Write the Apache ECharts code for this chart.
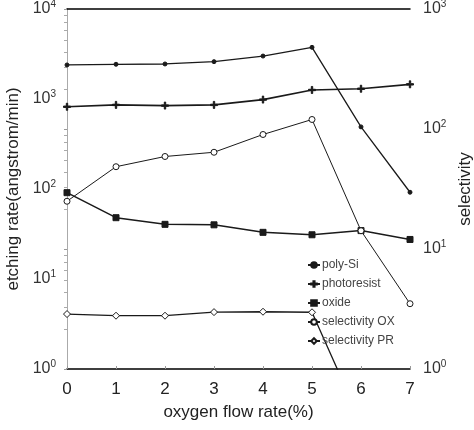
<!DOCTYPE html>
<html>
<head>
<meta charset="utf-8">
<script src="https://cdn.jsdelivr.net/npm/echarts@6/dist/echarts.min.js"></script>
<style>
  html, body { margin: 0; padding: 0; background: #fff; }
  #chart { width: 474px; height: 430px; }
</style>
</head>
<body>
<div id="chart"></div>
<script>
const flowRate = [0, 1, 2, 3, 4, 5, 6, 7];
const polySi = [2390, 2430, 2450, 2600, 3000, 3750, 490, 92];
const photoresist = [820, 860, 845, 860, 985, 1260, 1300, 1455];
const oxide = [91, 48, 40.5, 40, 33, 31, 34.5, 27.5];
const selectivityOX = [25, 48.5, 59, 64, 90, 120, 14.2, 3.5];
const selectivityPR = [2.87, 2.78, 2.78, 2.98, 3.0, 2.97, 0.36, 0.065];

const FONT = '"Liberation Sans", Arial, sans-serif';
const INK = '#1a1a1a';

const pairs = (ys) => flowRate.map((x, i) => [x, ys[i]]);

const powLabel = (v) => '{b|10}{s|' + Math.round(Math.log10(v)) + '}';
const powRich = {
  b: { fontSize: 16, fontFamily: FONT, color: '#333' },
  s: { fontSize: 10, fontFamily: FONT, color: '#333', padding: [0, 0, 9, 0] }
};

const plus = 'path://M-1,-5 L1,-5 L1,-1 L5,-1 L5,1 L1,1 L1,5 L-1,5 L-1,1 L-5,1 L-5,-1 L-1,-1 Z';

const makeSeries = (name, ys, axis, symbol, size, filled, width) => ({
  name: name,
  type: 'line',
  yAxisIndex: axis,
  data: pairs(ys),
  symbol: symbol,
  symbolSize: size,
  showAllSymbol: true,
  lineStyle: { color: INK, width: width },
  itemStyle: { color: filled ? INK : '#fff', borderColor: INK, borderWidth: 1 },
  clip: true,
  z: 3
});

const initChart = () => {
  const chart = echarts.init(document.getElementById('chart'), null, { renderer: 'canvas' });
  chart.setOption({
    animation: false,
    backgroundColor: '#fff',
    grid: { left: 67, right: 64, top: 9, bottom: 61, outerBoundsMode: 'none', containLabel: false },
    legend: {
      orient: 'vertical',
      left: 302,
      top: 253,
      itemWidth: 12,
      itemHeight: 7,
      itemGap: 5,
      textStyle: { fontFamily: '"Liberation Sans Narrow", "Liberation Sans", sans-serif', fontSize: 12, color: '#444', lineHeight: 14, padding: [0, 0, 0, -3] },
      data: ['poly-Si', 'photoresist', 'oxide', 'selectivity OX', 'selectivity PR']
    },
    xAxis: [
      {
        type: 'value',
        min: 0,
        max: 7,
        interval: 1,
        name: 'oxygen flow rate(%)',
        nameLocation: 'middle',
        nameGap: 35,
        nameTextStyle: { fontFamily: FONT, fontSize: 17, color: '#222' },
        axisLine: { lineStyle: { color: '#000', width: 1.5 } },
        axisTick: { inside: true, length: 3, lineStyle: { color: '#999' } },
        axisLabel: { margin: 12, fontFamily: FONT, fontSize: 17, color: '#222' },
        splitLine: { show: false }
      },
      {
        type: 'value',
        position: 'top',
        min: 0,
        max: 7,
        interval: 1,
        axisLine: { show: true, lineStyle: { color: '#000', width: 1.5 } },
        axisTick: { show: false },
        axisLabel: { show: false },
        splitLine: { show: false }
      }
    ],
    yAxis: [
      {
        type: 'log',
        logBase: 10,
        min: 1,
        max: 10000,
        position: 'left',
        name: 'etching rate(angstrom/min)',
        nameLocation: 'middle',
        nameGap: 41,
        nameTextStyle: { fontFamily: FONT, fontSize: 17, color: '#222' },
        axisLine: { show: true, lineStyle: { color: '#777', width: 1 } },
        axisTick: { show: false },
        axisLabel: { margin: 11, formatter: powLabel, rich: powRich },
        splitLine: { show: false }
      },
      {
        type: 'log',
        logBase: 10,
        min: 1,
        max: 1000,
        position: 'right',
        name: 'selectivity',
        nameLocation: 'middle',
        nameRotate: 90,
        nameGap: 46,
        nameTextStyle: { fontFamily: FONT, fontSize: 17, color: '#222' },
        axisLine: { show: true, lineStyle: { color: '#aaa', width: 1 } },
        axisTick: { inside: true, length: 3, lineStyle: { color: '#999' } },
        minorTick: { show: true, splitNumber: 8, length: 3, lineStyle: { color: '#aaa' } },
        axisLabel: { margin: 13, formatter: powLabel, rich: powRich },
        splitLine: { show: false }
      }
    ],
    series: [
      makeSeries('poly-Si', polySi, 0, 'circle', 4, true, 1.3),
      makeSeries('photoresist', photoresist, 0, plus, 7, true, 1.6),
      makeSeries('oxide', oxide, 0, 'rect', 6, true, 1.5),
      makeSeries('selectivity OX', selectivityOX, 1, 'circle', 6, false, 1),
      makeSeries('selectivity PR', selectivityPR, 1, 'diamond', 7, false, 1.3)
    ]
  });
};

window.addEventListener('load', () => {
  initChart();
});
</script>
</body>
</html>
